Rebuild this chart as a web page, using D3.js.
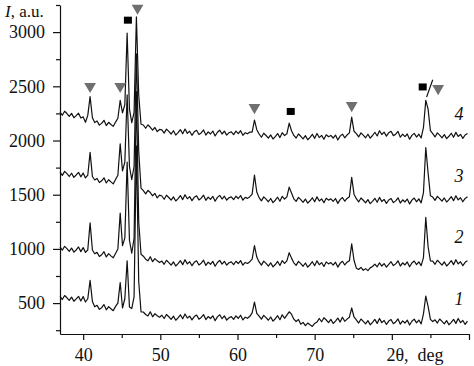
<!DOCTYPE html>
<html>
<head>
<meta charset="utf-8">
<script src="https://cdn.jsdelivr.net/npm/d3@7"></script>
<style>
  body { margin: 0; background: #fff; }
  svg { display: block; }
  .axis path, .axis line { stroke: #111; stroke-width: 1.2; }
  .trace { fill: none; stroke: #111; stroke-width: 1.2; stroke-linejoin: round; }
</style>
</head>
<body>
<div id="chart"></div>
<script>
/* CONSTANTS */
const width = 474,
  height = 366,
  margin = { top: 5, right: 5, bottom: 32, left: 60 };
const serif = "'Liberation Serif', 'Times New Roman', serif";

/* DATA */
// 2θ grid: one reading every 0.3 deg from 37.0 deg
const angleStart = 37.0;
const angleStep = 0.3;

const series1 = [
  563, 533, 570, 549, 525, 555, 517, 539, 562, 520, 560, 510, 540,
  710, 515,
  466, 480, 442, 458, 486, 438, 468, 448, 430, 470,
  500, 690, 455, 540, 890, 465, 450, 560, 1950, 700, 420,
  418, 395, 382, 420, 374, 402, 384, 370,
  388, 358, 395, 374, 350, 380, 342, 364, 392, 355, 400, 362, 380, 345, 376, 390, 352, 368, 394, 348,
  376, 358, 383, 338, 373, 392, 356, 382, 343, 365, 375, 350, 382, 360, 388, 345, 370, 360, 378,
  410, 510, 405,
  380, 352, 387, 366, 342, 372, 334, 356, 384, 347, 392, 360,
  390, 420, 398,
  352, 330, 348, 305, 322, 292, 316, 300, 285, 312, 325,
  358, 328, 365, 344, 320, 350, 312, 334, 362, 325, 370, 332, 352,
  370, 455, 372,
  346, 316, 353, 332, 308, 338, 300, 322, 350, 313, 358, 320, 340, 303, 334, 348, 310, 326, 354, 306,
  336, 316, 343, 298, 333, 352, 318, 344, 308,
  400, 565, 470, 350,
  330, 346, 316, 353, 332, 308, 338, 300, 322, 350, 313, 358, 320, 340, 303, 334
];

const series2 = [
  1018, 988, 1024, 1003, 978, 1008, 970, 990, 1018, 975, 1012, 968, 990,
  1240, 990,
  955, 968, 930, 946, 974, 926, 956, 936, 918, 958,
  1000, 1330, 1030, 1100, 1800, 1080, 960, 1100, 2450, 1250, 950,
  933, 905, 890, 928, 882, 910, 890, 874,
  888, 858, 895, 874, 850, 880, 842, 864, 892, 855, 900, 862, 882, 845, 876, 890, 852, 868, 896, 848,
  878, 858, 885, 840, 875, 894, 860, 886, 850, 872, 880, 855, 886, 865, 892, 850, 875, 866, 882,
  905, 1030, 925,
  880, 850, 887, 866, 842, 872, 834, 856, 884, 847, 892, 866,
  890, 965, 915,
  872, 848, 885, 864, 840, 870, 832, 854, 882, 845, 890,
  854, 874, 838, 880, 862, 874, 850, 877, 832, 867, 886, 852, 878,
  890, 1046, 895,
  822, 810, 830, 802, 818, 800, 825, 838, 860, 835, 872, 842, 865, 832, 858, 882, 846, 862, 890, 842,
  872, 852, 880, 835, 870, 888, 855, 880, 846,
  920, 1290, 1020, 890,
  888, 858, 895, 874, 850, 880, 842, 864, 892, 855, 900, 862, 882, 845, 876, 890
];

const series3 = [
  1708, 1678, 1715, 1694, 1668, 1698, 1660, 1682, 1706, 1665, 1700, 1655, 1680,
  1890, 1668,
  1636, 1650, 1612, 1628, 1656, 1608, 1638, 1618, 1600, 1640,
  1680, 1970, 1720, 1800, 2420, 1760, 1640, 1760, 2800, 1900, 1560,
  1538, 1508, 1540, 1520, 1490, 1512, 1470, 1496,
  1488, 1458, 1495, 1474, 1450, 1480, 1442, 1464, 1492, 1455, 1500, 1462, 1482, 1445, 1476, 1490, 1452, 1468, 1496, 1448,
  1478, 1458, 1485, 1440, 1475, 1494, 1460, 1486, 1450, 1472, 1480, 1455, 1486, 1465, 1492, 1450, 1475, 1466, 1482,
  1505, 1680, 1525,
  1473, 1443, 1480, 1459, 1435, 1465, 1427, 1449, 1477, 1440, 1485, 1460,
  1480, 1570, 1515,
  1462, 1438, 1475, 1454, 1430, 1460, 1422, 1444, 1472, 1435, 1480,
  1442, 1462, 1426, 1468, 1450, 1462, 1438, 1465, 1420, 1455, 1474, 1440, 1466,
  1480, 1660, 1505,
  1463, 1433, 1470, 1449, 1425, 1455, 1417, 1439, 1467, 1430, 1475, 1437, 1457, 1420, 1451, 1465, 1427, 1443, 1471, 1423,
  1453, 1433, 1460, 1415, 1450, 1469, 1435, 1461, 1425,
  1520, 1935, 1700, 1490,
  1478, 1448, 1485, 1464, 1440, 1470, 1432, 1454, 1482, 1445, 1490, 1452, 1472, 1435, 1466, 1480
];

const series4 = [
  2263, 2233, 2270, 2249, 2222, 2250, 2210, 2230, 2252, 2208, 2218, 2168, 2232,
  2405, 2210,
  2166, 2180, 2142, 2158, 2186, 2138, 2168, 2148, 2130, 2170,
  2205, 2370, 2255, 2330, 2990, 2290, 2165, 2260, 3140, 2420, 2150,
  2143, 2113, 2145, 2122, 2095, 2120, 2082, 2102,
  2098, 2068, 2105, 2084, 2060, 2090, 2050, 2072, 2100, 2062, 2106, 2066, 2086, 2048, 2080, 2094, 2055, 2070, 2098, 2050,
  2080, 2060, 2087, 2042, 2076, 2095, 2060, 2086, 2050, 2072, 2080, 2055, 2086, 2064, 2090, 2048, 2072, 2062, 2078,
  2078, 2188, 2100,
  2060, 2030, 2067, 2046, 2022, 2052, 2014, 2036, 2064, 2027, 2072, 2045,
  2062, 2160, 2090,
  2047, 2023, 2060, 2039, 2015, 2045, 2007, 2029, 2057, 2020, 2065,
  2027, 2047, 2011, 2053, 2035, 2047, 2023, 2050, 2005, 2040, 2059, 2025, 2051,
  2070, 2215, 2085,
  2063, 2033, 2070, 2049, 2025, 2058, 2022, 2046, 2076, 2042, 2090, 2055, 2077, 2040, 2072, 2085, 2045, 2058, 2084, 2030,
  2058, 2035, 2060, 2012, 2047, 2066, 2032, 2058, 2024,
  2120, 2370, 2290, 2090,
  2063, 2033, 2070, 2049, 2025, 2055, 2017, 2039, 2067, 2030, 2075, 2037, 2057, 2020, 2051, 2065
];

const seriesLabels = ["1", "2", "3", "4"];
// baseline anchor (2θ, intensity) for each curve number
const labelPos = [[88.7, 483], [88.7, 1054], [88.7, 1617], [88.7, 2189]];

// phase markers [2θ, intensity]
const triangleMarks = [[40.9, 2500], [44.8, 2500], [47.05, 3222], [62.2, 2306], [74.8, 2324], [86.0, 2481]];
const squareMarks = [[45.8, 3110], [66.9, 2268], [84.0, 2494]];

const xTicks = [40, 50, 60, 70, 80, 90];
const xMinorTicks = [45, 55, 65, 75, 85];
const yTicks = [500, 1000, 1500, 2000, 2500, 3000];
const yMinorTicks = [250, 750, 1250, 1750, 2250, 2750, 3250];

/* SCALES */
const xScale = d3.scaleLinear().domain([37, 90]).range([margin.left, width - margin.right]);
const yScale = d3.scaleLinear().domain([215, 3250]).range([height - margin.bottom, margin.top]);

const svg = d3.select("#chart")
  .append("svg")
  .attr("width", width)
  .attr("height", height);

/* AXES */
// minor ticks first, then main axis on top
svg.append("g")
  .attr("class", "axis")
  .attr("transform", `translate(0,${height - margin.bottom})`)
  .call(d3.axisBottom(xScale).tickValues(xMinorTicks).tickSize(4).tickFormat(""))
  .call(g => g.select(".domain").remove());

svg.append("g")
  .attr("class", "axis x-axis")
  .attr("transform", `translate(0,${height - margin.bottom})`)
  .call(d3.axisBottom(xScale).tickValues(xTicks).tickSizeInner(6).tickSizeOuter(0)
    .tickFormat(d => (d === 80 || d === 90) ? "" : d))
  .attr("font-family", serif)
  .attr("font-size", 18)
  .call(g => g.selectAll("text").attr("dy", "1em").attr("fill", "#111"));

svg.append("g")
  .attr("class", "axis")
  .attr("transform", `translate(${margin.left},0)`)
  .call(d3.axisLeft(yScale).tickValues(yMinorTicks).tickSize(4).tickFormat(""))
  .call(g => g.select(".domain").remove());

svg.append("g")
  .attr("class", "axis y-axis")
  .attr("transform", `translate(${margin.left},0)`)
  .call(d3.axisLeft(yScale).tickValues(yTicks).tickSizeInner(7).tickSizeOuter(0).tickFormat(d3.format("d")))
  .attr("font-family", serif)
  .attr("font-size", 18)
  .call(g => g.selectAll("text").attr("x", -15).attr("fill", "#111"));

// axis titles
svg.append("text")
  .attr("x", 415)
  .attr("y", 361)
  .attr("text-anchor", "middle")
  .attr("font-family", serif)
  .attr("font-size", 18)
  .attr("fill", "#111")
  .style("white-space", "pre")
  .text("2θ,  deg");

const yTitle = svg.append("text")
  .attr("x", 5)
  .attr("y", 17)
  .attr("font-family", serif)
  .attr("font-size", 17)
  .attr("fill", "#111");
yTitle.append("tspan").attr("font-style", "italic").text("I");
yTitle.append("tspan").text(", a.u.");

/* TRACES */
const line = d3.line()
  .x((d, i) => xScale(angleStart + angleStep * i))
  .y(d => yScale(d));

svg.selectAll("path.trace")
  .data([series1, series2, series3, series4])
  .join("path")
  .attr("class", "trace")
  .attr("d", line);

/* CURVE NUMBERS */
svg.selectAll("text.curve-label")
  .data(seriesLabels)
  .join("text")
  .attr("class", "curve-label")
  .attr("x", (d, i) => xScale(labelPos[i][0]))
  .attr("y", (d, i) => yScale(labelPos[i][1]))
  .attr("text-anchor", "middle")
  .attr("font-family", serif)
  .attr("font-size", 18)
  .attr("font-style", "italic")
  .attr("fill", "#111")
  .text(d => d);

/* PHASE MARKERS */
const tri = d3.symbol().type(d3.symbolTriangle).size(60);
svg.selectAll("path.tri")
  .data(triangleMarks)
  .join("path")
  .attr("class", "tri")
  .attr("d", tri)
  .attr("fill", "#6f6f6f")
  .attr("transform", d => `translate(${xScale(d[0])},${yScale(d[1])}) rotate(180)`);

svg.selectAll("rect.sq")
  .data(squareMarks)
  .join("rect")
  .attr("class", "sq")
  .attr("x", d => xScale(d[0]) - 4)
  .attr("y", d => yScale(d[1]) - 3.5)
  .attr("width", 8)
  .attr("height", 7)
  .attr("fill", "#000");

// slash between the two markers on the last peak
svg.append("line")
  .attr("x1", xScale(84.5))
  .attr("y1", yScale(2400))
  .attr("x2", xScale(85.3))
  .attr("y2", yScale(2560))
  .attr("stroke", "#111")
  .attr("stroke-width", 1.2);
</script>
</body>
</html>
